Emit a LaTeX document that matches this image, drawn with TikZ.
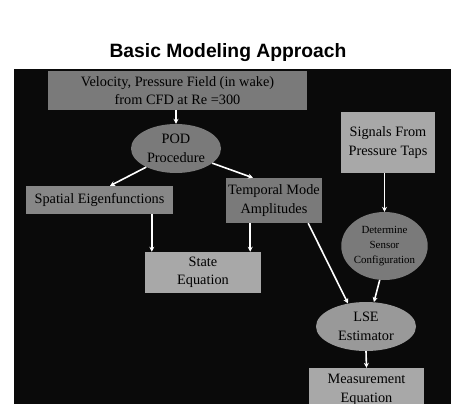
\documentclass[tikz,border=0pt]{standalone}
\usepackage{fontspec}
\setmainfont{Liberation Serif}
\newfontfamily\titlefont{Liberation Sans}
\usetikzlibrary{arrows.meta, shapes.geometric}
\definecolor{panel}{gray}{0.04}
\definecolor{darkfill}{gray}{0.48}
\definecolor{midfill}{gray}{0.53}
\definecolor{lightfill}{gray}{0.66}
\definecolor{ovalfill}{gray}{0.60}
\tikzset{rectbox/.style={fill=#1, inner sep=0pt, align=center,
    font=\fontsize{14.3}{18.5}\selectfont},
  ovalbox/.style={ellipse, fill=#1, inner sep=0pt, align=center,
    font=\fontsize{14.3}{18.5}\selectfont},
  flow/.style={draw=white, line width=1.6pt, -{Stealth[length=5pt,width=5pt]}},
}

\begin{document}
\begin{tikzpicture}[x=1pt, y=-1pt]
                    \useasboundingbox (0,0) rectangle (474,404);
                    \clip (0,0) rectangle (474,404);
                    \fill[white] (0,0) rectangle (474,404);
                    \fill[panel] (14,69) rectangle (451,410);
                    \node (title) at (228,53) {\titlefont\bfseries\fontsize{19.3}{23}\selectfont Basic Modeling Approach};
                    %Left column: CFD data and POD
                    \node[rectbox=darkfill, minimum width=259pt, minimum height=39pt] (cfd) at (177.5,90.5) {Velocity, Pressure Field (in wake)\\from CFD at Re =300};
                    \node[ovalbox=darkfill, minimum width=90pt, minimum height=49pt] (pod) at (176,148.5) {POD\\Procedure};
                    \node[rectbox=midfill, minimum width=147pt, minimum height=28pt] (spatial) at (99.5,200) {Spatial Eigenfunctions};
                    \node[rectbox=darkfill, minimum width=96pt, minimum height=45pt] (temporal) at (274,200.5) {Temporal Mode\\Amplitudes};
                    \node[rectbox=lightfill, minimum width=116pt, minimum height=41pt] (state) at (203,272.5) {State\\Equation};
                    %Right column: sensors and estimator
                    \node[rectbox=lightfill, minimum width=94pt, minimum height=61pt] (taps) at (388,142.5) {Signals From\\Pressure Taps};
                    \node[ovalbox=darkfill, minimum width=79pt, minimum height=68pt, font=\fontsize{10.9}{15}\selectfont] (sensor) at (384.5,246) {Determine\\Sensor\\Configuration};
                    \node[ovalbox=ovalfill, minimum width=100pt, minimum height=49pt] (lse) at (366,326.5) {LSE\\Estimator};
                    \node[rectbox=lightfill, minimum width=115pt, minimum height=44pt] (meas) at (366.5,390) {Measurement\\Equation};
                    %Arrows
                    \draw[flow] (pod.north |- cfd.south) -- (pod.north);
                    \draw[flow] (pod.212) -- ([xshift=10.5pt]spatial.north);
                    \draw[flow] (pod.-22) -- ([xshift=-21pt]temporal.north);
                    \draw[flow] ([xshift=7pt]state.north west |- spatial.south) -- ([xshift=7pt]state.north west);
                    \draw[flow] ([xshift=-11pt]state.north east |- temporal.south) -- ([xshift=-11pt]state.north east);
                    \draw[flow] ([xshift=-14pt]temporal.south east) -- (lse.128);
                    \draw[flow] (sensor.north |- taps.south) -- (sensor.north);
                    \draw[flow] (sensor.262) -- (lse.72);
                    \draw[flow] (lse.south) -- (meas.north);
                \end{tikzpicture}
\end{document}
